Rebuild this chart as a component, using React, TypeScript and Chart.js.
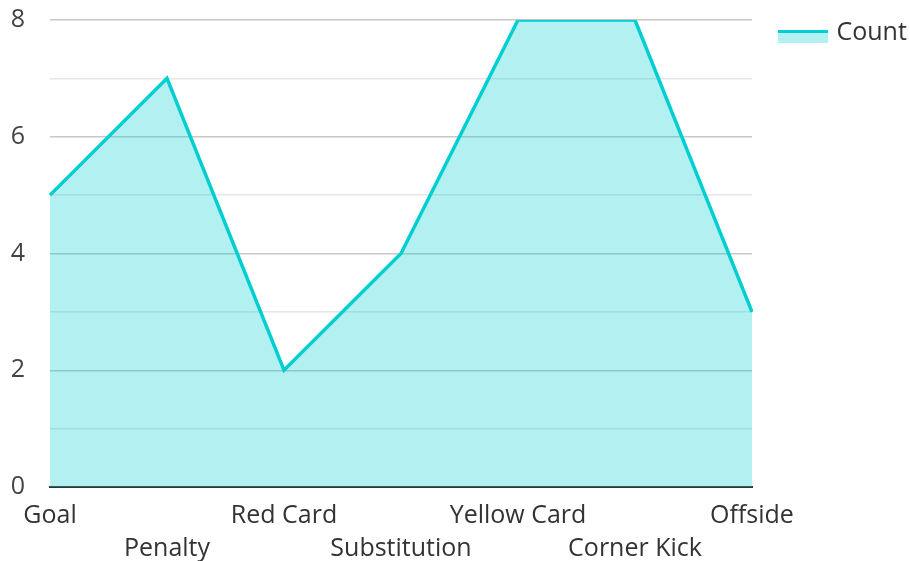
import React, { useEffect, useRef } from "react";
import { Chart, registerables } from "chart.js";

Chart.register(...registerables);

const categories: string[] = ["Goal", "Penalty", "Red Card", "Substitution", "Yellow Card", "Corner Kick", "Offside"];
const counts: number[] = [5, 7, 2, 4, 8, 8, 3];
const seriesName = "Count";
const yTickValues: number[] = [0, 2, 4, 6, 8];

const TEAL = "#00CED1";
const TEAL_FILL = "rgba(0,206,209,0.3)";

function makeLegendImage(): HTMLCanvasElement {
  const c = document.createElement("canvas");
  c.width = 60;
  c.height = 31;
  const ctx = c.getContext("2d")!;
  ctx.fillStyle = TEAL_FILL;
  ctx.fillRect(10, 16, 50, 10);
  ctx.fillStyle = TEAL;
  ctx.fillRect(10, 13, 50, 3);
  return c;
}

export default function App() {
  const ref = useRef<HTMLCanvasElement | null>(null);

  useEffect(() => {
    if (!ref.current) return;
    const legendImg = makeLegendImage();
    Chart.defaults.font.family = "'Open Sans', sans-serif";
    const chart = new Chart(ref.current, {
      type: "line",
      data: {
        labels: categories,
        datasets: [
          {
            label: seriesName,
            data: counts,
            borderColor: TEAL,
            backgroundColor: TEAL_FILL,
            borderWidth: 3.5,
            fill: "origin",
            pointRadius: 0,
            tension: 0,
          },
        ],
      },
      options: {
        animation: false,
        responsive: false,
        layout: { padding: { top: 0, right: 0, left: 0, bottom: 0 } },
        plugins: {
          tooltip: { enabled: false },
          legend: {
            position: "right",
            align: "start",
            maxWidth: 158,
            labels: {
              usePointStyle: true,
              pointStyleWidth: 52,
              boxWidth: 52,
              padding: 20,
              color: "#333",
              font: { size: 25 },
              generateLabels: () => [
                {
                  text: seriesName,
                  pointStyle: legendImg as any,
                  fillStyle: TEAL_FILL,
                  strokeStyle: TEAL,
                  lineWidth: 0,
                  hidden: false,
                  datasetIndex: 0,
                  fontColor: "#333",
                } as any,
              ],
            },
          },
        },
        scales: {
          x: {
            type: "category",
            offset: false,
            afterFit: (scale: any) => {
              scale.height = 74;
            },
            grid: { display: false, drawTicks: false },
            border: { display: true, color: "#333", width: 2 },
            ticks: {
              autoSkip: false,
              maxRotation: 0,
              minRotation: 0,
              padding: 13,
              color: "#333",
              font: { size: 25, lineHeight: 1.3 },
              callback: function (this: any, value: any, index: number) {
                const lbl = this.getLabelForValue(value);
                return index % 2 === 1 ? ["", lbl] : lbl;
              },
            },
          },
          y: {
            min: 0,
            max: 8,
            afterFit: (scale: any) => {
              scale.width = 50;
              scale.paddingTop = 20;
              scale.paddingBottom = 0;
            },
            grid: {
              drawTicks: false,
              color: (ctx: any) => (yTickValues.includes(ctx.tick?.value) ? "#c8c8c8" : "#e6e6e6"),
              lineWidth: 1.5,
            },
            border: { display: false },
            ticks: {
              stepSize: 1,
              padding: 25,
              color: "#444",
              font: { size: 25 },
              callback: (v: any) => (yTickValues.includes(Number(v)) ? String(v) : ""),
            },
          },
        },
      },
    });
    return () => chart.destroy();
  }, []);

  return (
    <div style={{ position: "absolute", left: 0, top: 0, width: 910, height: 561 }}>
      <canvas ref={ref} width={910} height={561} style={{ display: "block" }} />
    </div>
  );
}
